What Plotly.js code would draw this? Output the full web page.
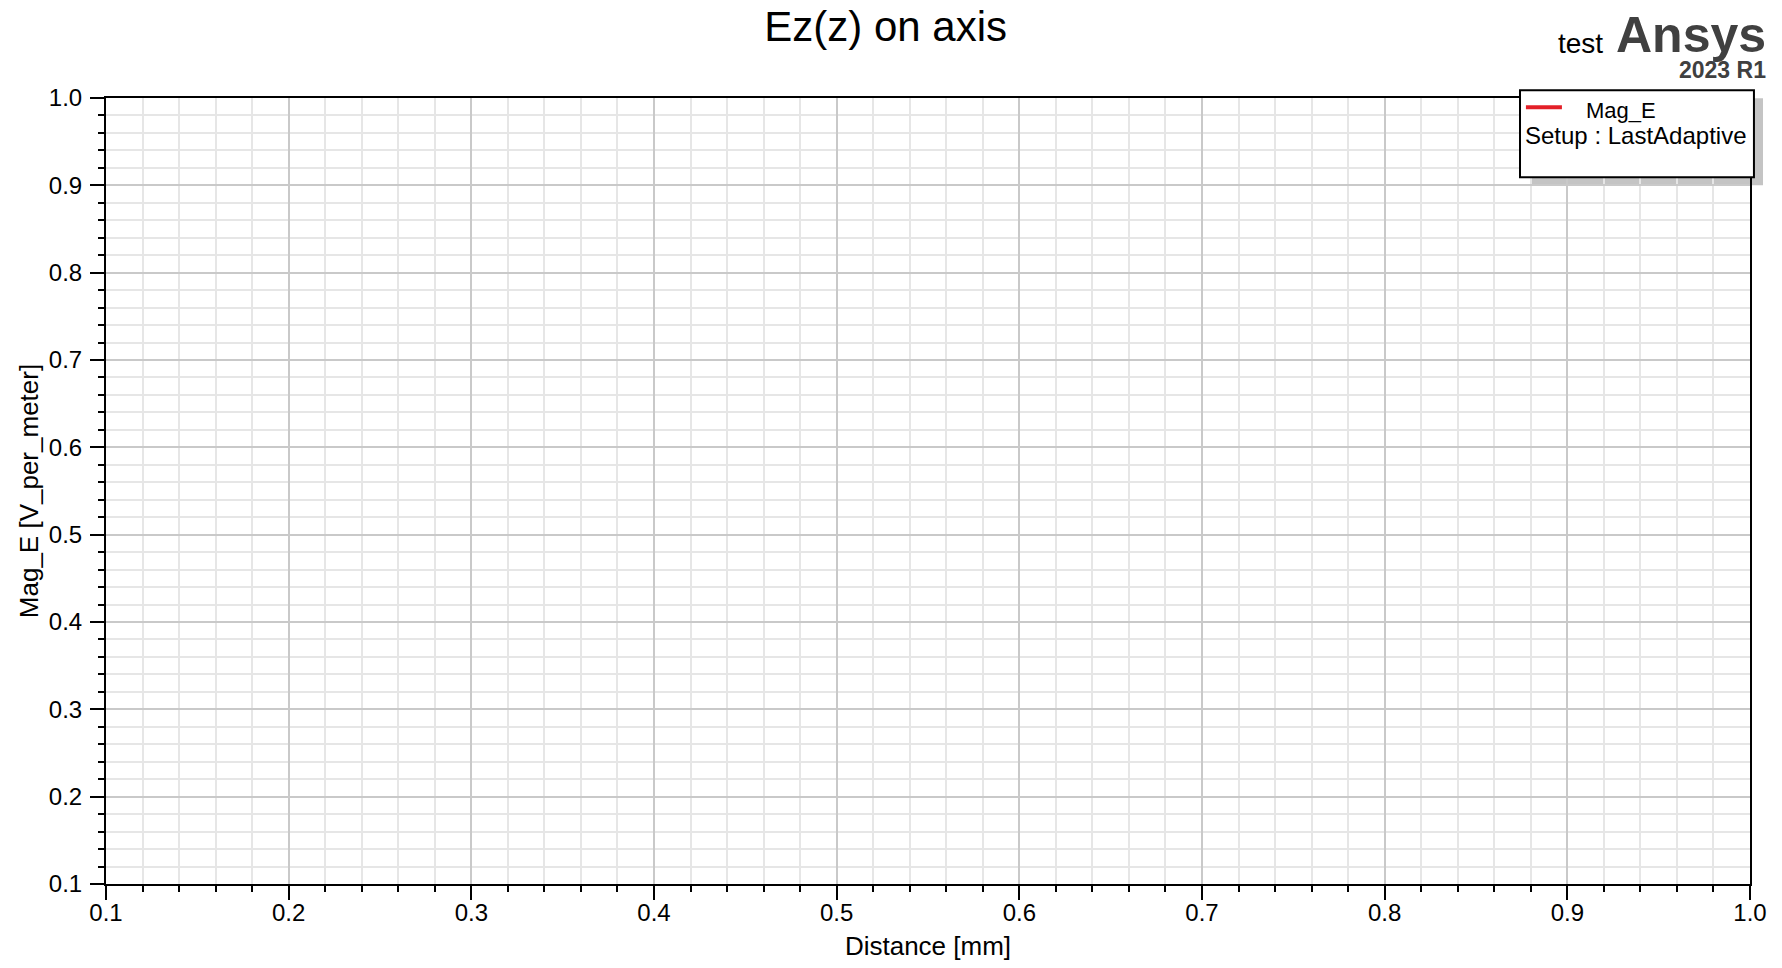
<!DOCTYPE html>
<html>
<head>
<meta charset="utf-8">
<script src="https://cdn.plot.ly/plotly-3.0.1.min.js"></script>
<style>
  html, body { margin: 0; padding: 0; background: #fff; }
  #chart { width: 1782px; height: 968px; }
</style>
</head>
<body>
<div id="chart"></div>
<script>
// the report has no samples in it, the plot is empty
var distance = [];
var magE = [];

var seriesName = "Mag_E";
var setupName = "Setup : LastAdaptive";
var xRange = [0.1, 1.0];
var yRange = [0.1, 1.0];

var FONT = "Liberation Sans, Arial, sans-serif";

var data = [
  {
    type: "scatter",
    mode: "lines",
    name: seriesName,
    x: distance,
    y: magE,
    line: { color: "#e32028", width: 2 },
    showlegend: false
  }
];

var axisCommon = {
  showline: true,
  mirror: true,
  linecolor: "#000",
  linewidth: 2,
  ticks: "outside",
  ticklen: 14,
  tickwidth: 2,
  tickcolor: "#000",
  dtick: 0.1,
  tickformat: ".1f",
  showgrid: true,
  gridcolor: "#c9c9c9",
  gridwidth: 2,
  zeroline: false,
  tickfont: { family: FONT, size: 24, color: "#000" },
  minor: {
    dtick: 0.02,
    ticks: "outside",
    ticklen: 6,
    tickwidth: 2,
    tickcolor: "#000",
    showgrid: true,
    gridcolor: "#e6e6e6",
    gridwidth: 2
  }
};

var layout = {
  width: 1782, height: 968,
  margin: { t: 98, r: 32, b: 84, l: 106 },
  paper_bgcolor: "#fff",
  plot_bgcolor: "#fff",
  font: { family: FONT, color: "#000" },
  title: {
    text: "Ez(z) on axis",
    font: { family: FONT, size: 42, color: "#000" },
    xref: "container", x: 0.497, xanchor: "center",
    yref: "container", y: 0.973, yanchor: "middle"
  },
  xaxis: Object.assign({}, axisCommon, {
    range: xRange,
    ticklabelstandoff: -8,
    title: { text: "Distance [mm]", font: { family: FONT, size: 26, color: "#000" }, standoff: 12 }
  }),
  yaxis: Object.assign({}, axisCommon, {
    range: yRange,
    ticklabelstandoff: 3,
    title: { text: "Mag_E [V_per_meter]", font: { family: FONT, size: 26, color: "#000" }, standoff: 3 }
  }),
  shapes: [
    // legend shadow
    { type: "rect", xref: "paper", yref: "paper", layer: "below",
      x0: 0.8662, x1: 1.0079, y0: 0.889, y1: 0.9996,
      fillcolor: "#c4c4c4", line: { width: 0 } },
    // legend box
    { type: "rect", xref: "paper", yref: "paper", layer: "above",
      x0: 0.8601, x1: 1.0024, y0: 0.8991, y1: 1.0098,
      fillcolor: "#fff", line: { color: "#000", width: 2 } },
    // legend swatch
    { type: "line", xref: "paper", yref: "paper", layer: "above",
      x0: 0.8637, x1: 0.8856, y0: 0.9882, y1: 0.9882,
      line: { color: "#e32028", width: 4 } }
  ],
  annotations: [
    { text: seriesName, xref: "paper", yref: "paper", x: 0.8990, y: 0.9846,
      xanchor: "left", yanchor: "middle", showarrow: false,
      font: { family: FONT, size: 22, color: "#000" } },
    { text: setupName, xref: "paper", yref: "paper", x: 0.8617, y: 0.9526,
      xanchor: "left", yanchor: "middle", showarrow: false,
      font: { family: FONT, size: 24, color: "#000" } },
    { text: "test", xref: "paper", yref: "paper", x: 0.8820, y: 1.0693,
      xanchor: "left", yanchor: "middle", showarrow: false,
      font: { family: FONT, size: 28, color: "#000" } },
    { text: "<b>Ansys</b>", xref: "paper", yref: "paper", x: 1.0112, y: 1.0804,
      xanchor: "right", yanchor: "middle", showarrow: false,
      font: { family: FONT, size: 50, color: "#404040" } },
    { text: "<b>2023 R1</b>", xref: "paper", yref: "paper", x: 1.0112, y: 1.0350,
      xanchor: "right", yanchor: "middle", showarrow: false,
      font: { family: FONT, size: 23, color: "#404040" } }
  ]
};

var config = { displayModeBar: false, responsive: false, staticPlot: true };

Plotly.newPlot("chart", data, layout, config);
</script>
</body>
</html>
